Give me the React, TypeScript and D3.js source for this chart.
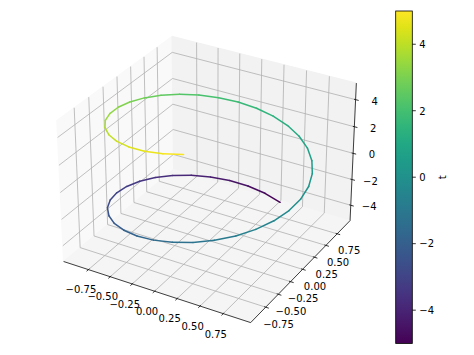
import React from 'react';
import * as d3 from 'd3';

// ---- data (helix: x = cos t, y = sin t, z = t) ----
const tValues = [-5.0, -4.8, -4.6, -4.4, -4.2, -4.0, -3.8, -3.6, -3.4, -3.2, -3.0, -2.8, -2.6, -2.4, -2.2, -2.0, -1.8, -1.6, -1.4, -1.2, -1.0, -0.8, -0.6, -0.4, -0.2, 0.0, 0.2, 0.4, 0.6, 0.8, 1.0, 1.2, 1.4, 1.6, 1.8, 2.0, 2.2, 2.4, 2.6, 2.8, 3.0, 3.2, 3.4, 3.6, 3.8, 4.0, 4.2, 4.4, 4.6, 4.8, 5.0];
const xValues = [0.284, 0.087, -0.112, -0.307, -0.490, -0.654, -0.791, -0.897, -0.967, -0.998, -0.990, -0.942, -0.857, -0.737, -0.589, -0.416, -0.227, -0.029, 0.170, 0.362, 0.540, 0.697, 0.825, 0.921, 0.980, 1.000, 0.980, 0.921, 0.825, 0.697, 0.540, 0.362, 0.170, -0.029, -0.227, -0.416, -0.589, -0.737, -0.857, -0.942, -0.990, -0.998, -0.967, -0.897, -0.791, -0.654, -0.490, -0.307, -0.112, 0.087, 0.284];
const yValues = [0.959, 0.996, 0.994, 0.952, 0.872, 0.757, 0.612, 0.443, 0.256, 0.058, -0.141, -0.335, -0.516, -0.675, -0.808, -0.909, -0.974, -1.000, -0.985, -0.932, -0.841, -0.717, -0.565, -0.389, -0.199, 0.000, 0.199, 0.389, 0.565, 0.717, 0.841, 0.932, 0.985, 1.000, 0.974, 0.909, 0.808, 0.675, 0.516, 0.335, 0.141, -0.058, -0.256, -0.443, -0.612, -0.757, -0.872, -0.952, -0.994, -0.996, -0.959];
const zValues = tValues;

const xTicks = [-0.75, -0.5, -0.25, 0, 0.25, 0.5, 0.75];
const yTicks = [-0.75, -0.5, -0.25, 0, 0.25, 0.5, 0.75];
const zTicks = [-4, -2, 0, 2, 4];
const cbTicks = [-4, -2, 0, 2, 4];
const cbLabel = 't';

// ---- layout / style ----
const W = 474;
const H = 355;
const FONT = "'DejaVu Sans', sans-serif";
const FS = 10;
const ELEV = 30;
const AZIM = -60;
const DIST = 10;
const LABEL_K = 0.83;
// measured screen anchors of box corners (padded box), image px
const ANCHORS: { c: [string, string, string]; px: [number, number] }[] = [
  { c: ['min', 'min', 'min'], px: [63.3, 261.7] },
  { c: ['max', 'min', 'min'], px: [251.7, 322.7] },
  { c: ['max', 'max', 'min'], px: [350, 220] },
  { c: ['min', 'max', 'max'], px: [171.7, 36.7] },
  { c: ['max', 'max', 'max'], px: [356, 83] },
];
const CB = { x: 395.7, y: 11, w: 16.6, h: 332.4 };

type V3 = [number, number, number];
const sub = (a: number[], b: number[]) => a.map((v, i) => v - b[i]);
const dot = (a: number[], b: number[]) => a[0] * b[0] + a[1] * b[1] + a[2] * b[2];
const cross = (a: number[], b: number[]) => [a[1] * b[2] - a[2] * b[1], a[2] * b[0] - a[0] * b[2], a[0] * b[1] - a[1] * b[0]];
const normalize = (a: number[]) => { const n = Math.hypot(a[0], a[1], a[2]); return a.map(v => v / n); };

function buildProjection(lims: [number, number][]) {
  const norm = Math.hypot(4, 4, 3);
  const box = [4, 4, 3].map(a => (a * 1.8294640721620434) / norm);
  const R = box.map(b => b / 2);
  const el = (ELEV * Math.PI) / 180;
  const az = (AZIM * Math.PI) / 180;
  const ps = [Math.cos(el) * Math.cos(az), Math.cos(el) * Math.sin(az), Math.sin(el)];
  const eye = R.map((r, i) => r + DIST * ps[i]);
  const w = normalize(sub(eye, R));
  const u = normalize(cross([0, 0, 1], w));
  const v = cross(w, u);
  return (p: V3): [number, number] => {
    const q = p.map((c, i) => ((c - lims[i][0]) / (lims[i][1] - lims[i][0])) * box[i]);
    const d = sub(q, eye);
    const xv = dot(u, d), yv = dot(v, d), zv = dot(w, d);
    return [xv / -zv, yv / -zv];
  };
}

export default function App() {
  const lims: [number, number][] = [
    d3.extent(xValues) as [number, number],
    d3.extent(yValues) as [number, number],
    d3.extent(zValues) as [number, number],
  ];
  const deltas = lims.map(([a, b]) => (b - a) / 12);
  const mins = lims.map((l, i) => l[0] - 0.25 * deltas[i]);
  const maxs = lims.map((l, i) => l[1] + 0.25 * deltas[i]);
  const centers = lims.map(l => (l[0] + l[1]) / 2);
  const proj2 = buildProjection(lims);

  // fit uniform scale + translation to anchors
  const pick = (c: [string, string, string]): V3 => c.map((s, i) => (s === 'min' ? mins[i] : maxs[i])) as V3;
  const P = ANCHORS.map(a => proj2(pick(a.c)));
  const mX = d3.mean(P, p => p[0])!, mY = d3.mean(P, p => p[1])!;
  const mpx = d3.mean(ANCHORS, a => a.px[0])!, mpy = d3.mean(ANCHORS, a => a.px[1])!;
  let num = 0, den = 0;
  P.forEach((p, i) => {
    const dx = p[0] - mX, dy = p[1] - mY;
    num += dx * (ANCHORS[i].px[0] - mpx) - dy * (ANCHORS[i].px[1] - mpy);
    den += dx * dx + dy * dy;
  });
  const s = num / den;
  const sx = d3.scaleLinear().domain([0, 1]).range([mpx - s * mX, mpx - s * mX + s]);
  const sy = d3.scaleLinear().domain([0, 1]).range([mpy + s * mY, mpy + s * mY - s]);
  const proj = (p: V3): [number, number] => { const r = proj2(p); return [sx(r[0]), sy(r[1])]; };
  const path = (pts: V3[], close = false) => {
    const l = d3.line<V3>().x(d => proj(d)[0]).y(d => proj(d)[1]);
    return l(pts)! + (close ? 'Z' : '');
  };

  const [x0, y0, z0] = mins;
  const [x1, y1, z1] = maxs;
  const panes = [
    { pts: [[x0, y0, z0], [x0, y1, z0], [x0, y1, z1], [x0, y0, z1]] as V3[], color: 'rgb(249,249,249)' },
    { pts: [[x0, y1, z0], [x1, y1, z0], [x1, y1, z1], [x0, y1, z1]] as V3[], color: 'rgb(242,242,242)' },
    { pts: [[x0, y0, z0], [x1, y0, z0], [x1, y1, z0], [x0, y1, z0]] as V3[], color: 'rgb(245,245,245)' },
  ];
  const grid: V3[][] = [
    ...xTicks.map(v => [[v, y0, z0], [v, y1, z0], [v, y1, z1]] as V3[]),
    ...yTicks.map(v => [[x0, v, z1], [x0, v, z0], [x1, v, z0]] as V3[]),
    ...zTicks.map(v => [[x1, y1, v], [x0, y1, v], [x0, y0, v]] as V3[]),
  ];
  const highs = [false, true, false];
  const axes = [
    { index: 0, tickdir: 1, edge: [x0, y0, z0] as V3, end: [x1, y0, z0] as V3, ticks: xTicks, fmt: d3.format('.2f') },
    { index: 1, tickdir: 0, edge: [x1, y0, z0] as V3, end: [x1, y1, z0] as V3, ticks: yTicks, fmt: d3.format('.2f') },
    { index: 2, tickdir: 0, edge: [x1, y1, z0] as V3, end: [x1, y1, z1] as V3, ticks: zTicks, fmt: d3.format('d') },
  ];

  const cmap = d3.scaleSequential(d3.interpolateViridis).domain(d3.extent(tValues) as [number, number]);
  const segs = tValues.slice(0, -1).map((t, i) => ({
    a: proj([xValues[i], yValues[i], zValues[i]]),
    b: proj([xValues[i + 1], yValues[i + 1], zValues[i + 1]]),
    c: cmap((t + tValues[i + 1]) / 2),
  }));

  const cbScale = d3.scaleLinear().domain(d3.extent(tValues) as [number, number]).range([CB.y + CB.h, CB.y]);
  const stops = d3.range(0, 1.0001, 0.05);

  return (
    <svg width={W} height={H} style={{ position: 'absolute', left: 0, top: 0, background: '#fff' }} fontFamily={FONT}>
      <defs>
        <linearGradient id="cbg" x1="0" y1="1" x2="0" y2="0">
          {stops.map(o => (
            <stop key={o} offset={o} stopColor={d3.interpolateViridis(o)} />
          ))}
        </linearGradient>
      </defs>
      <rect x={0} y={0} width={W} height={H} fill="#fff" />
      {panes.map((p, i) => (
        <path key={'pane' + i} d={path(p.pts, true)} fill={p.color} stroke={p.color} strokeWidth={1} />
      ))}
      {axes.map((ax, k) => (
        <path key={'axl' + k} d={path([ax.edge, ax.end])} stroke="#000" strokeWidth={0.75} fill="none" />
      ))}
      {grid.map((g, i) => (
        <path key={'g' + i} d={path(g)} stroke="#b0b0b0" strokeWidth={0.8} fill="none" />
      ))}
      {axes.map((ax, k) =>
        ax.ticks.map(v => {
          const td = ax.tickdir;
          const tickdelta = highs[td] ? deltas[td] : -deltas[td];
          const pa = [...ax.edge] as V3; pa[ax.index] = v; pa[td] = ax.edge[td] + 0.1 * tickdelta;
          const pb = [...ax.edge] as V3; pb[ax.index] = v; pb[td] = ax.edge[td] - 0.2 * tickdelta;
          const pl = [...ax.edge] as V3; pl[ax.index] = v;
          for (let j = 0; j < 3; j++) {
            if (j === ax.index) continue;
            pl[j] += Math.sign(pl[j] - centers[j]) * LABEL_K * deltas[j];
          }
          const [ax1, ay1] = proj(pa), [ax2, ay2] = proj(pb), [lx, ly] = proj(pl);
          return (
            <g key={'t' + k + '_' + v}>
              <line x1={ax1} y1={ay1} x2={ax2} y2={ay2} stroke="#000" strokeWidth={0.8} />
              <text x={lx} y={ly + 0.76 * FS} fontSize={FS} textAnchor="middle" fill="#000">{ax.fmt(v)}</text>
            </g>
          );
        })
      )}
      {segs.map((sg, i) => (
        <line key={'s' + i} x1={sg.a[0]} y1={sg.a[1]} x2={sg.b[0]} y2={sg.b[1]} stroke={sg.c} strokeWidth={1.5} strokeLinecap="round" />
      ))}
      <rect x={CB.x} y={CB.y} width={CB.w} height={CB.h} fill="url(#cbg)" stroke="#000" strokeWidth={0.8} />
      {cbTicks.map(v => (
        <g key={'cb' + v}>
          <line x1={CB.x + CB.w} x2={CB.x + CB.w + 3.5} y1={cbScale(v)} y2={cbScale(v)} stroke="#000" strokeWidth={0.8} />
          <text x={CB.x + CB.w + 7} y={cbScale(v) + 0.38 * FS} fontSize={FS} fill="#000">{d3.format('d')(v)}</text>
        </g>
      ))}
      <text transform={`translate(${CB.x + CB.w + 7 + 14.7 + 4 + 0.76 * FS},${CB.y + CB.h / 2}) rotate(-90)`} fontSize={FS} textAnchor="middle" fill="#000">{cbLabel}</text>
    </svg>
  );
}
